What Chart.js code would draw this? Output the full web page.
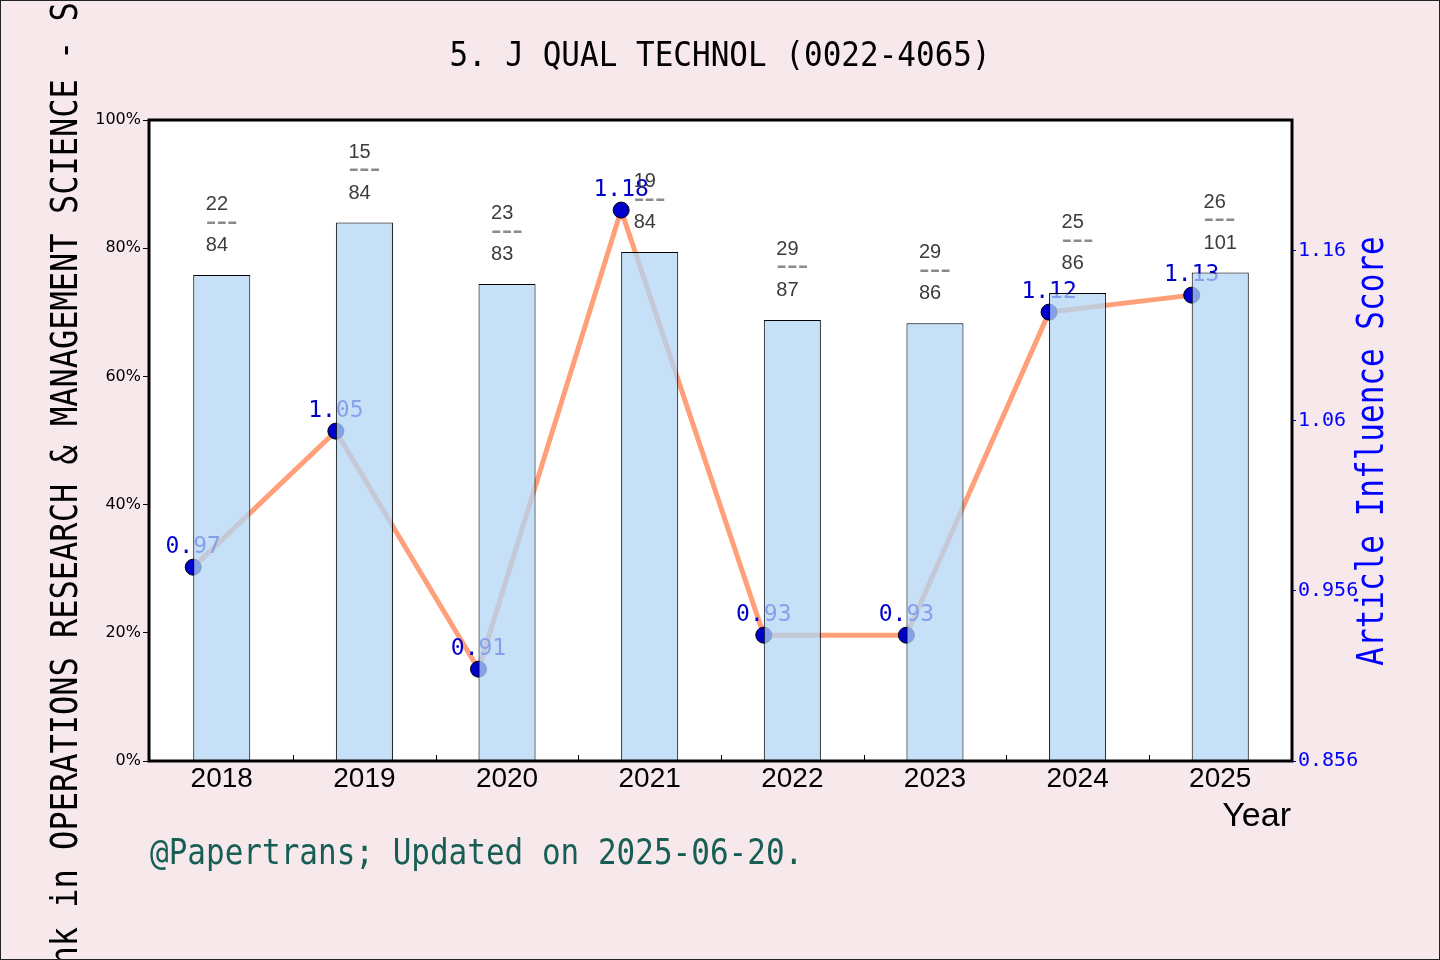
<!DOCTYPE html>
<html><head><meta charset="utf-8">
<script src="https://cdn.jsdelivr.net/npm/chart.js@4.4.1/dist/chart.umd.min.js"></script>
<style>html,body{margin:0;padding:0;background:#f7e8ec;}canvas{display:block}</style>
</head><body>
<canvas id="c" width="1440" height="960"></canvas>
<script>
// ---- data ----
const years = ['2018','2019','2020','2021','2022','2023','2024','2025'];
const rankNum = [22,15,23,19,29,29,25,26];
const rankDen = [84,84,83,84,87,86,86,101];
const barPct = [75.8,84.0,74.4,79.4,68.8,68.3,73.0,76.2];
const aisValues = [0.97,1.05,0.91,1.18,0.93,0.93,1.12,1.13];
const pctTicks = [0,20,40,60,80,100];
const aisTicks = [0.856,0.956,1.056,1.156];
const titleText = '5. J QUAL TECHNOL (0022-4065)';
const leftTitle = 'Rank in OPERATIONS RESEARCH & MANAGEMENT SCIENCE - SCIE';
const rightTitle = 'Article Influence Score';
const xTitle = 'Year';
const footer = '@Papertrans; Updated on 2025-06-20.';

const MONO = '"DejaVu Sans Mono", monospace';
const SANS = '"Liberation Sans", Arial, sans-serif';

function txt(ctx, s, x, y, font, color, align, base, rot, sy) {
  ctx.save();
  ctx.translate(x, y);
  if (rot) ctx.rotate(rot);
  if (sy) ctx.scale(1, sy);
  ctx.font = font; ctx.fillStyle = color;
  ctx.textAlign = align; ctx.textBaseline = base;
  ctx.fillText(s, 0, 0);
  ctx.restore();
}

const deco = {
  id: 'deco',
  beforeDraw(chart) {
    const {ctx, chartArea: a} = chart;
    ctx.save();
    ctx.fillStyle = '#f7e8ec';
    ctx.fillRect(0, 0, chart.width, chart.height);
    ctx.fillStyle = '#ffffff';
    ctx.fillRect(a.left, a.top, a.right - a.left, a.bottom - a.top);
    ctx.restore();
  },
  afterDatasetDraw(chart, args) {
    if (args.index !== 1) return;
    const ctx = chart.ctx;
    args.meta.data.forEach((pt, i) => {
      txt(ctx, aisValues[i].toFixed(2), pt.x, pt.y - 14, '23px ' + MONO, '#0000cd', 'center', 'alphabetic');
    });
  },
  afterDatasetsDraw(chart) {
    const ctx = chart.ctx, a = chart.chartArea;
    const meta = chart.getDatasetMeta(0);
    meta.data.forEach((bar, i) => {
      const num = String(rankNum[i]), den = String(rankDen[i]), dash = '---';
      ctx.save();
      ctx.font = '20px ' + SANS;
      const w1 = ctx.measureText(num).width, w3 = ctx.measureText(den).width;
      ctx.font = '32px ' + SANS;
      const w2 = ctx.measureText(dash).width;
      ctx.restore();
      const bw = Math.max(w1, w2, w3);
      const left = bar.x - bw / 2;
      txt(ctx, num, left, bar.y - 65, '20px ' + SANS, '#3c3c3c', 'left', 'alphabetic');
      txt(ctx, dash, left, bar.y - 44.5, '32px ' + SANS, '#8a8a8a', 'left', 'alphabetic');
      txt(ctx, den, left, bar.y - 24, '20px ' + SANS, '#3c3c3c', 'left', 'alphabetic');
    });
    // minor inward ticks on x axis
    const xs = chart.scales.x;
    ctx.save();
    ctx.strokeStyle = '#000'; ctx.lineWidth = 1;
    for (let i = 0; i < years.length - 1; i++) {
      const px = Math.round(xs.getPixelForValue(i + 0.7)) + 0.5;
      ctx.beginPath(); ctx.moveTo(px, a.bottom); ctx.lineTo(px, a.bottom - 6); ctx.stroke();
    }
    // frame
    ctx.lineWidth = 3; ctx.strokeStyle = '#000';
    ctx.strokeRect(a.left, a.top, a.right - a.left, a.bottom - a.top);
    ctx.restore();
  },
  afterDraw(chart) {
    const ctx = chart.ctx, a = chart.chartArea;
    txt(ctx, titleText, chart.width / 2, 57, '31px ' + MONO, '#000', 'center', 'middle', 0, 1.1);
    txt(ctx, leftTitle, 67, 1004, '32px ' + MONO, '#000', 'left', 'middle', -Math.PI / 2, 1.17);
    txt(ctx, rightTitle, 1373, 451, '31px ' + MONO, '#0000ff', 'center', 'middle', -Math.PI / 2, 1.2);
    txt(ctx, xTitle, a.right - 1, 817, '34px ' + SANS, '#000', 'right', 'middle');
    txt(ctx, footer, 150, 855, '31px ' + MONO, '#175f55', 'left', 'middle', 0, 1.15);
    ctx.save();
    ctx.strokeStyle = '#222'; ctx.lineWidth = 1;
    ctx.strokeRect(0.5, 0.5, chart.width - 1, chart.height - 1);
    ctx.restore();
  }
};

new Chart(document.getElementById('c'), {
  data: {
    datasets: [
      {
        type: 'bar', label: 'Rank',
        data: years.map((y, i) => ({x: i + 0.2, y: barPct[i]})),
        backgroundColor: 'rgba(178,214,244,0.75)',
        borderColor: '#000', borderWidth: 1,
        barPercentage: 0.4, categoryPercentage: 1.0,
        xAxisID: 'x', yAxisID: 'y', order: 0
      },
      {
        type: 'line', label: 'AIS',
        data: years.map((y, i) => ({x: i, y: aisValues[i]})),
        borderColor: 'rgb(255,160,122)', borderWidth: 5, tension: 0,
        pointRadius: 8, pointBackgroundColor: '#0000cd',
        pointBorderColor: '#000', pointBorderWidth: 1,
        xAxisID: 'x', yAxisID: 'y2', order: 1
      }
    ]
  },
  options: {
    responsive: false, devicePixelRatio: 1, animation: false,
    layout: {padding: {top: 120, left: 0, right: 0, bottom: 0}},
    plugins: {legend: {display: false}, tooltip: {enabled: false}, title: {display: false}},
    scales: {
      x: {
        type: 'linear', position: 'bottom', min: -0.31, max: 7.703, offset: false,
        afterBuildTicks: s => { s.ticks = years.map((_, i) => ({value: i + 0.2})); },
        ticks: {callback: (v, i) => years[i], font: {family: 'Liberation Sans', size: 28},
                color: '#000', padding: 1, maxRotation: 0, autoSkip: false},
        grid: {display: false, drawTicks: false, offset: false},
        border: {display: false},
        afterFit: s => { s.height = 199; }
      },
      y: {
        type: 'linear', position: 'left', min: 0, max: 100,
        afterBuildTicks: s => { s.ticks = pctTicks.map(v => ({value: v})); },
        ticks: {callback: v => v + '%', font: {family: 'DejaVu Sans', size: 16}, color: '#000', padding: 2},
        grid: {drawOnChartArea: false, color: '#000', tickLength: 6, lineWidth: 1},
        border: {display: false},
        afterFit: s => { s.width = 149; }
      },
      y2: {
        type: 'linear', position: 'right', min: 0.856, max: 1.233,
        afterBuildTicks: s => { s.ticks = aisTicks.map(v => ({value: v})); },
        ticks: {callback: v => Number(v).toPrecision(3), font: {family: 'DejaVu Sans Mono', size: 20}, color: '#0000ff', padding: 2},
        grid: {drawOnChartArea: false, color: '#0000ff', tickLength: 4, lineWidth: 1},
        border: {display: false},
        afterFit: s => { s.width = 148; }
      }
    }
  },
  plugins: [deco]
});
</script>
</body></html>
